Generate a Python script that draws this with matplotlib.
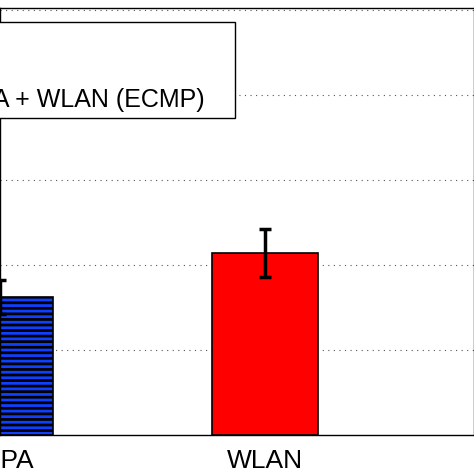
import matplotlib.pyplot as plt
from matplotlib.patches import Rectangle

plt.rcParams['font.family'] = ['Liberation Sans', 'DejaVu Sans']
plt.rcParams['hatch.linewidth'] = 2.0

categories = ['HSPA', 'WLAN', 'HSPA + WLAN']
values = [1.62, 2.14, 0.0]
errors = [0.2, 0.28, 0.0]
colors = ['#1040ff', '#ff0000', '#ffffff']
hatches = ['---', '', '']
legend_label = 'MPTCP over HSPA + WLAN (ECMP)'

fig = plt.figure(figsize=(4.74, 4.74), dpi=100)
ax = fig.add_axes([0, 39 / 474, 1, 427 / 474])

x = [1, 2, 3]
for xi, v, e, c, h in zip(x, values, errors, colors, hatches):
    if v <= 0:
        continue
    ax.bar(xi, v, width=0.4, color=c, edgecolor='black', hatch=h, linewidth=1.2, zorder=2)
    ax.errorbar(xi, v, yerr=e, color='black', capsize=4, elinewidth=2.5, capthick=2.5, zorder=3)

ax.set_yticks([1, 2, 3, 4, 5])
ax.yaxis.grid(True, linestyle=(0, (1, 4)), color='#555555', linewidth=0.8, zorder=0)
ax.set_xticks(x)
ax.set_xticklabels(categories, fontsize=19)
ax.set_xlim(1, 1 + 474 / 265)
ax.set_ylim(0, 427 / 85)
ax.tick_params(axis='x', length=0, pad=10)
ax.tick_params(axis='y', length=0, labelleft=False)
for s in ax.spines.values():
    s.set_linewidth(1)

# legend box (mostly cropped on the left)
ax.add_patch(Rectangle((-20, 356), 255, 96, transform=None, facecolor='white',
                       edgecolor='black', linewidth=1, zorder=4))
fig.text(205 / 474, 1 - 100 / 474, legend_label, ha='right', va='center',
         fontsize=18, zorder=5)

fig.savefig('out.png', dpi=100)
